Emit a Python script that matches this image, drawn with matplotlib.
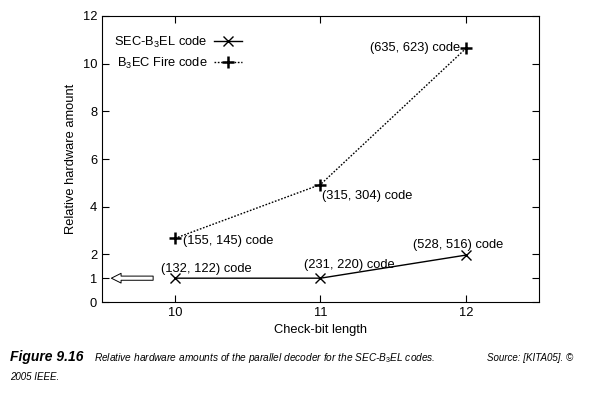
import matplotlib.pyplot as plt

plt.rcParams['font.family'] = ['Liberation Sans', 'DejaVu Sans']
plt.rcParams['mathtext.fontset'] = 'custom'
plt.rcParams['mathtext.rm'] = 'Liberation Sans'
plt.rcParams['mathtext.it'] = 'Liberation Sans:italic'

# data
check_bits = [10, 11, 12]
sec_b3el = [1.0, 1.0, 1.97]
b3ec_fire = [2.67, 4.93, 10.65]
sec_labels = ['(132, 122) code', '(231, 220) code', '(528, 516) code']
fire_labels = ['(155, 145) code', '(315, 304) code', '(635, 623) code']

fs = 9.3
fig = plt.figure(figsize=(5.98, 3.95), dpi=100)
ax = fig.add_axes([0.1706, 0.2354, 0.7307, 0.7241])

ax.plot(check_bits, sec_b3el, color='black', lw=1.0, marker='x', ms=7, mew=1.0,
        label='SEC-B$_3$EL code')
ax.plot(check_bits, b3ec_fire, color='black', lw=1.0, ls=(0, (1.2, 1.2)), marker='+',
        ms=9, mew=1.8, label='B$_3$EC Fire code')

# point labels (offsets in points)
sec_off = [(23, 2), (21, 5), (-6, 3)]
for x, y, t, o in zip(check_bits, sec_b3el, sec_labels, sec_off):
    ax.annotate(t, (x, y), xytext=o, textcoords='offset points', ha='center', va='bottom', fontsize=fs)
fire_off = [(6, -2), (1, -4), (-4, 0)]
fire_ha = ['left', 'left', 'right']
fire_va = ['center', 'top', 'center']
for x, y, t, o, h, v in zip(check_bits, b3ec_fire, fire_labels, fire_off, fire_ha, fire_va):
    ax.annotate(t, (x, y), xytext=o, textcoords='offset points', ha=h, va=v, fontsize=fs)

# hollow arrow pointing left
ax.annotate('', xy=(9.545, 1.0), xytext=(9.87, 1.0),
            arrowprops=dict(arrowstyle='simple,head_length=0.7,head_width=0.7,tail_width=0.3',
                            fc='white', ec='black', lw=0.7))

ax.set_xlim(9.5, 12.5)
ax.set_ylim(0, 12)
ax.set_xticks([10, 11, 12])
ax.set_yticks([0, 1, 2, 4, 6, 8, 10, 12])
ax.tick_params(direction='in', top=True, right=True, labelsize=fs, length=5, width=0.8)
ax.set_xlabel('Check-bit length', fontsize=fs)
ax.set_ylabel('Relative hardware amount', fontsize=fs)
for s in ax.spines.values():
    s.set_linewidth(0.8)

ax.legend(loc='upper left', frameon=False, markerfirst=False, fontsize=fs,
          handlelength=2.2, handletextpad=0.5, bbox_to_anchor=(0.0, 0.975), labelspacing=0.45)
for t in ax.get_legend().get_texts():
    t.set_ha('right')

# caption
fig.text(0.017, 0.085, 'Figure 9.16', fontsize=10, fontweight='bold', style='italic')
fig.text(0.158, 0.085, 'Relative hardware amounts of the parallel decoder for the $SEC$-$B_3EL$ codes.',
         fontsize=7.3, style='italic')
fig.text(0.815, 0.085, 'Source: [KITA05]. \u00a9', fontsize=7, style='italic')
fig.text(0.017, 0.037, '2005 IEEE.', fontsize=7, style='italic')

fig.savefig('out.png', dpi=100)
